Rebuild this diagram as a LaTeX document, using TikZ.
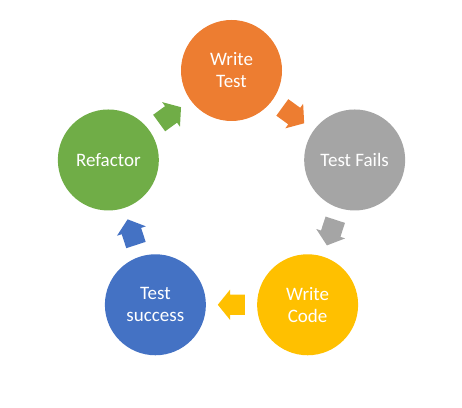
\documentclass[tikz,border=0pt]{standalone}
\usepackage{fontspec}
\setmainfont{Carlito}
\usepackage{tikz}
\usetikzlibrary{shapes.arrows,calc}

\definecolor{wtorange}{HTML}{ED7D31}
\definecolor{tfgray}{HTML}{A5A5A5}
\definecolor{wcyellow}{HTML}{FFC000}
\definecolor{tsblue}{HTML}{4472C4}
\definecolor{rfgreen}{HTML}{70AD47}

\begin{document}
\begin{tikzpicture}[x=1pt,y=1pt,
  stage/.style={circle, minimum size=101pt, inner sep=0pt, text=white,
    font=\fontsize{19}{22}\selectfont, align=center},
  turn/.style={single arrow, minimum height=27pt, inner xsep=0pt, inner ysep=10pt,
    single arrow head extend=5pt, single arrow tip angle=102, anchor=tail}]
\useasboundingbox (0,0) rectangle (462,407);

%% centre of the cycle and its radius
\coordinate (c) at (231.5,207);
\def\iR{129.5}

%% the five stages, clockwise from the top
\node[stage, fill=wtorange] (wt) at ($(c)+(90:\iR)$) {Write\\Test};
\node[stage, fill=tfgray] (tf) at ($(c)+(18:\iR)$) {Test Fails};
\node[stage, fill=wcyellow] (wc) at ($(c)+(-54:\iR)$) {Write\\Code};
\node[stage, fill=tsblue] (ts) at ($(c)+(-126:\iR)$) {Test\\success};
\node[stage, fill=rfgreen] (rf) at ($(c)+(162:\iR)$) {Refactor};

%% block arrows half way between two stages (tail 13.5pt before the middle)
\foreach \iA/\iB/\iAng/\iCol in {rf/wt/36/rfgreen, wt/tf/-36/wtorange,
    tf/wc/-108/tfgray, wc/ts/180/wcyellow, ts/rf/108/tsblue}{
\node[turn, fill=\iCol, rotate=\iAng] (\iA-\iB) at ($(\iA)!0.5!(\iB)!-13.5pt!(\iB)$) {};
}
\end{tikzpicture}
\end{document}
